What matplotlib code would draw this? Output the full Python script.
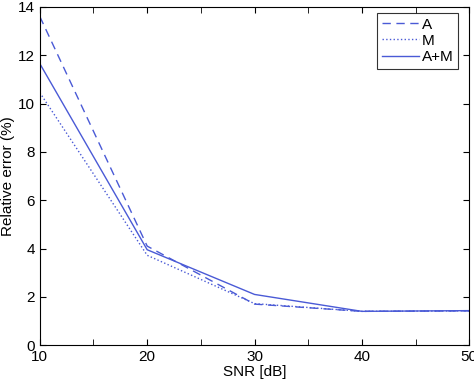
import matplotlib
matplotlib.use("Agg")
import matplotlib.pyplot as plt

plt.rcParams["font.family"] = ["Liberation Sans", "DejaVu Sans"]

snr = [10, 20, 30, 40, 50]
err_a = [13.6, 4.1, 1.7, 1.4, 1.42]
err_m = [10.45, 3.72, 1.72, 1.4, 1.42]
err_am = [11.65, 3.95, 2.1, 1.4, 1.43]

blue = "#4a5ad6"

fig = plt.figure(figsize=(4.74, 3.81), dpi=100)
ax = fig.add_axes([0.084, 0.094, 0.906, 0.888])

ax.plot(snr, err_a, "--", color=blue, lw=1.0, dashes=(6, 4), label="A")
ax.plot(snr, err_m, ":", color=blue, lw=1.0, label="M")
ax.plot(snr, err_am, "-", color=blue, lw=1.0, label="A+M")

ax.set_xlim(10, 50)
ax.set_ylim(0, 14)
ax.set_xticks([10, 20, 30, 40, 50])
ax.set_xticks([15, 25, 35, 45], minor=True)
ax.set_yticks(range(0, 15, 2))
ax.tick_params(which="both", direction="in", top=True, right=True, labelsize=11)
ax.tick_params(which="both", length=4)
ax.set_xlabel("SNR [dB]", fontsize=11, labelpad=1)
ax.set_ylabel("Relative error (%)", fontsize=11, labelpad=2)

leg = ax.legend(loc="upper right", bbox_to_anchor=(0.974, 0.982), fontsize=11,
                fancybox=False, edgecolor="black", handlelength=2.4, borderpad=0.3,
                labelspacing=0.15, handletextpad=0.2, borderaxespad=0)
leg.get_frame().set_linewidth(0.8)

fig.savefig("out.png", dpi=100)
